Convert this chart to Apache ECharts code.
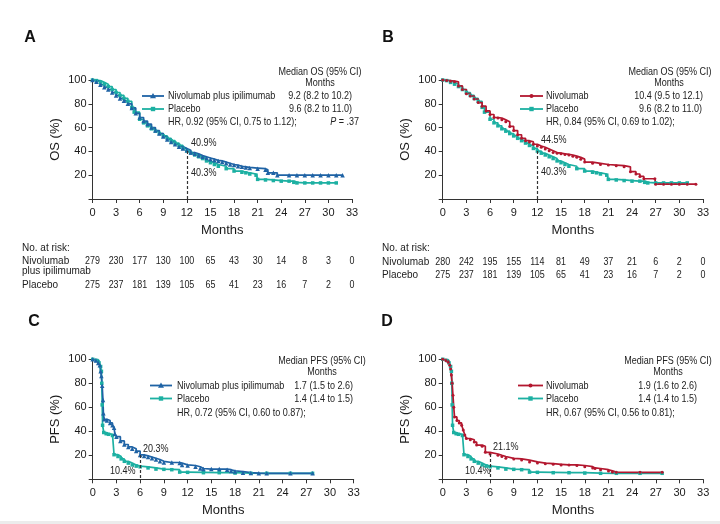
<!DOCTYPE html>
<html>
<head>
<meta charset="utf-8">
<script src="https://cdn.jsdelivr.net/npm/echarts@6/dist/echarts.min.js"></script>
<style>html,body{margin:0;padding:0;background:#fff}#chart{width:720px;height:524px}</style>
</head>
<body>
<div id="chart"></div>
<script>
// OS, placebo (same arm in A and B)
var osPlaceboT = [0,0.5,1,1.5,2,2.5,3,3.5,4,4.5,5,5.3,6,6.5,7,7.5,8,8.5,9,9.5,10,10.5,11,11.5,12,12.5,13,13.5,14,14.5,15,15.5,16,17,18,19,19.5,20,20.8,21,22,23,24,25,25.6,26,27,28,29,30,31];
var osPlaceboS = [100,99.5,98,96.5,94.5,92,89.5,87,84.5,82,77,73,67,64,61.5,59,57,55,53,51,49,47,45,42.5,40.3,38.5,37,35.5,34,32,30.5,29,27.5,25.5,23.5,22.5,22,21,20,16.5,16,15.5,15,15,14,13.5,13.5,13.5,13.5,13.5,13.5];
// OS, nivolumab plus ipilimumab
var osNivoIpiT = [0,0.5,1,1.5,2,2.5,3,3.5,4,4.5,5,5.5,6,6.5,7,7.5,8,8.5,9,9.5,10,10.5,11,11.5,12,12.5,13,13.5,14,14.5,15,15.5,16,16.5,17,17.5,18,18.5,19,19.5,20,21,22,22.3,23,23.5,25,26,27,28,29,30,31,31.8];
var osNivoIpiS = [100,98.5,96,94,92,89.5,87,84.5,82.5,80,76.5,72,68.5,65.5,63,60,57.5,55,52.5,50,48,46,44,42.5,40.9,39,38,36.5,35.5,34.5,33.5,32.5,32,31,30,29,28.5,27.5,27,26.5,26,25.5,24.5,22,22,20,20,20,20,20,20,20,20,20];
// OS, nivolumab
var osNivoT = [0,0.5,1,1.5,2,2.5,3,3.5,4,4.5,5,5.5,6,6.5,7,7.5,8,8.5,9,9.5,10,10.5,11,11.5,12,12.5,13,13.5,14,14.5,15,15.5,16,16.5,17,17.5,18,19,20,21,22,23,23.8,24.5,25,25.5,26.9,27,28,29,30,31,32.1];
var osNivoS = [100,99.5,99,98.5,95,92,88.5,86.5,84,81,78,74,71,68.5,68,66.5,65,61,57.5,54,51,49,48,46,44.5,43.5,42,40.5,39,38.5,38,37.5,37,36,35,33.5,31,30,29,28.5,28,27,23,21,19,17,17,12.5,12.5,12.5,12.5,12.5,12.5];

// PFS, placebo (same arm in C and D)
var pfsPlaceboT = [0,0.5,0.8,1,1.1,1.15,1.2,1.25,1.4,1.7,2,2.5,2.7,3.2,3.6,4,4.5,5,5.5,6,7,8,9,10,11,12,14,16,18,20,22,25,27.8];
var pfsPlaceboS = [100,99,97,94,90,80,62,45,39,38,37.5,36.5,20.5,19,17,15,13.5,12,11,10.4,9.5,8.5,8.3,8,6,5.8,5.5,5.5,5.2,5,5,5,5];
// PFS, nivolumab plus ipilimumab
var pfsNivoIpiT = [0,0.4,0.7,0.9,1,1.1,1.2,1.3,1.35,1.45,1.8,2.2,2.5,2.7,2.8,3,3.5,4,4.5,5,5.5,6,6.5,7,7.5,8,8.5,9,10,11,11.3,12,13,13.6,14,15,16,17,17.5,18,19,20,21,22,25,27.8];
var pfsNivoIpiS = [100,99,97,95,90,86,78,66,55,50,49,47,45,43,38,35.5,32,29,27,25.5,23.5,20.3,19.5,18.5,17.5,16.5,15,14,14,13.5,12,11.5,10.5,9,8.5,8.5,8.5,8,7,6.5,5.5,5.2,5,5,5,5];
// PFS, nivolumab
var pfsNivoT = [0,0.4,0.7,0.9,1,1.1,1.2,1.3,1.4,1.5,1.8,2.1,2.4,2.6,2.8,3,3.5,4,4.3,5,5.4,6,7,7.5,8,9,10,11,12,13,14,15,16,17,18,19,19.3,20,21,21.5,22,25,27.8];
var pfsNivoS = [100,99,97.5,95,92,87,80,70,60,52,49,47,45,41,37,34,33,31,28.5,27.5,22.5,21.1,20,19,17.5,17,16,14.5,13.5,13,12.5,12,12,11.5,10.5,9.5,9,8,7,6,5.8,5.8,5.8];

// number at risk, every 3 months
var riskMonths = [0,3,6,9,12,15,18,21,24,27,30,33];
var riskNivoIpi = [279,230,177,130,100,65,43,30,14,8,3,0];
var riskNivo = [280,242,195,155,114,81,49,37,21,6,2,0];
var riskPlacebo = [275,237,181,139,105,65,41,23,16,7,2,0];

// medians shown beside the legend
var medOsNivoIpi = '9.2 (8.2 to 10.2)', medOsNivo = '10.4 (9.5 to 12.1)', medOsPlacebo = '9.6 (8.2 to 11.0)';
var medPfsNivoIpi = '1.7 (1.5 to 2.6)', medPfsNivo = '1.9 (1.6 to 2.6)', medPfsPlacebo = '1.4 (1.4 to 1.5)';

var BLUE = '#1f63a5', TEAL = '#1cb0a2', RED = '#b3172f';
var SANS = 'Arial, "Liberation Sans", Helvetica, sans-serif';
var TXT = '#222';
var SQUEEZE = 0.82; // the source uses a condensed face

function pairs(t, s) { return t.map(function (x, i) { return [x, s[i]]; }); }

var grids = [
  { left: 92.5, top: 80, width: 259.5, height: 119 },
  { left: 442.7, top: 80, width: 260.3, height: 119 },
  { left: 92.7, top: 359.3, width: 261, height: 120 },
  { left: 442.7, top: 359.3, width: 260.5, height: 120 }
];

function xAx(i) {
  return {
    gridIndex: i, type: 'value', min: 0, max: 33, interval: 3,
    name: 'Months', nameLocation: 'middle', nameGap: 25,
    nameTextStyle: { fontSize: 13, color: '#1a1a1a', fontFamily: SANS },
    axisLine: { lineStyle: { color: '#333', width: 1 } },
    axisTick: { length: 4, lineStyle: { color: '#333' } },
    axisLabel: { fontSize: 11, color: '#1a1a1a', margin: 8, fontFamily: SANS },
    splitLine: { show: false }
  };
}
function yAx(i, name) {
  return {
    gridIndex: i, type: 'value', min: 0, max: 100, interval: 20,
    name: name, nameLocation: 'middle', nameGap: 31,
    nameTextStyle: { fontSize: 13, color: '#1a1a1a', fontFamily: SANS },
    axisLine: { show: true, lineStyle: { color: '#333', width: 1 } },
    axisTick: { show: true, length: 4, lineStyle: { color: '#333' } },
    axisLabel: { fontSize: 11, color: '#1a1a1a', margin: 6, fontFamily: SANS,
      formatter: function (v) { return v === 0 ? '' : v; } },
    splitLine: { show: false }
  };
}
function dash(x, y) {
  return {
    silent: true, symbol: 'none', label: { show: false }, animation: false,
    lineStyle: { type: [3, 2], color: '#333', width: 1.2 },
    data: [[{ coord: [x, y] }, { coord: [x, 0] }]]
  };
}
function km(name, idx, t, s, color, symbol, size, mark) {
  var o = {
    name: name, type: 'line', xAxisIndex: idx, yAxisIndex: idx,
    data: pairs(t, s), step: 'end', color: color,
    symbol: symbol, symbolSize: size, showSymbol: true,
    lineStyle: { width: 1.7, color: color }, itemStyle: { color: color },
    animation: false
  };
  if (mark) o.markLine = mark;
  return o;
}

var chart = echarts.init(document.getElementById('chart'), null, { renderer: 'canvas' });
chart.setOption({
  backgroundColor: '#ffffff',
  animation: false,
  grid: grids,
  xAxis: [xAx(0), xAx(1), xAx(2), xAx(3)],
  yAxis: [yAx(0, 'OS (%)'), yAx(1, 'OS (%)'), yAx(2, 'PFS (%)'), yAx(3, 'PFS (%)')],
  series: [
    km('Placebo', 0, osPlaceboT, osPlaceboS, TEAL, 'rect', 3.5, dash(12, 40.3)),
    km('Nivolumab plus ipilimumab', 0, osNivoIpiT, osNivoIpiS, BLUE, 'triangle', 4.5),
    km('Placebo', 1, osPlaceboT, osPlaceboS, TEAL, 'rect', 3.5, dash(12, 40.3)),
    km('Nivolumab', 1, osNivoT, osNivoS, RED, 'circle', 3),
    km('Placebo', 2, pfsPlaceboT, pfsPlaceboS, TEAL, 'rect', 3.5, dash(6, 20.3)),
    km('Nivolumab plus ipilimumab', 2, pfsNivoIpiT, pfsNivoIpiS, BLUE, 'triangle', 4.5),
    km('Placebo', 3, pfsPlaceboT, pfsPlaceboS, TEAL, 'rect', 3.5, dash(6, 21.1)),
    km('Nivolumab', 3, pfsNivoT, pfsNivoS, RED, 'circle', 3)
  ]
});

function txt(x, y, s, opt) {
  opt = opt || {};
  var size = opt.size || 11;
  return {
    type: 'text', x: x, y: y, silent: true,
    scaleX: opt.scale == null ? SQUEEZE : opt.scale,
    style: {
      text: s, fill: opt.fill || TXT, fontSize: size,
      fontFamily: SANS, fontWeight: opt.weight || 'normal',
      align: opt.align || 'left', verticalAlign: 'middle',
      rich: opt.rich
    }
  };
}
function mark(kind, cx, cy, color) {
  if (kind === 'triangle') {
    return { type: 'polygon', silent: true, shape: { points: [[cx, cy - 3], [cx - 3, cy + 2.2], [cx + 3, cy + 2.2]] }, style: { fill: color } };
  }
  if (kind === 'rect') {
    return { type: 'rect', silent: true, shape: { x: cx - 2.2, y: cy - 2.2, width: 4.4, height: 4.4 }, style: { fill: color } };
  }
  return { type: 'circle', silent: true, shape: { cx: cx, cy: cy, r: 2 }, style: { fill: color } };
}
function legendRow(g, x1, x2, y, color, kind, name, tx, med, mx) {
  g.push({ type: 'line', silent: true, shape: { x1: x1, y1: y, x2: x2, y2: y }, style: { stroke: color, lineWidth: 1.8 } });
  g.push(mark(kind, (x1 + x2) / 2, y, color));
  g.push(txt(tx, y, name));
  g.push(txt(mx, y, med, { align: 'right' }));
}

var g = [];
// panel letters
g.push(txt(30, 38, 'A', { size: 16, weight: 'bold', align: 'center', fill: '#111', scale: 1 }));
g.push(txt(388, 38, 'B', { size: 16, weight: 'bold', align: 'center', fill: '#111', scale: 1 }));
g.push(txt(34, 322, 'C', { size: 16, weight: 'bold', align: 'center', fill: '#111', scale: 1 }));
g.push(txt(387, 322, 'D', { size: 16, weight: 'bold', align: 'center', fill: '#111', scale: 1 }));
// median headers
g.push(txt(320, 72, 'Median OS (95% CI)', { align: 'center' }));
g.push(txt(320, 83, 'Months', { align: 'center' }));
g.push(txt(670, 72, 'Median OS (95% CI)', { align: 'center' }));
g.push(txt(669, 83, 'Months', { align: 'center' }));
g.push(txt(322, 361, 'Median PFS (95% CI)', { align: 'center' }));
g.push(txt(322, 372, 'Months', { align: 'center' }));
g.push(txt(668, 361, 'Median PFS (95% CI)', { align: 'center' }));
g.push(txt(668, 372, 'Months', { align: 'center' }));
// legends
legendRow(g, 142, 164, 96, BLUE, 'triangle', 'Nivolumab plus ipilimumab', 168, medOsNivoIpi, 352);
legendRow(g, 142, 164, 109, TEAL, 'rect', 'Placebo', 168, medOsPlacebo, 352);
legendRow(g, 520, 543, 96, RED, 'circle', 'Nivolumab', 546, medOsNivo, 703);
legendRow(g, 520, 543, 109, TEAL, 'rect', 'Placebo', 546, medOsPlacebo, 702);
legendRow(g, 150, 172, 385.5, BLUE, 'triangle', 'Nivolumab plus ipilimumab', 177, medPfsNivoIpi, 353);
legendRow(g, 150, 172, 398.5, TEAL, 'rect', 'Placebo', 177, medPfsPlacebo, 353);
legendRow(g, 518, 543, 385.5, RED, 'circle', 'Nivolumab', 546, medPfsNivo, 697);
legendRow(g, 518, 543, 398.5, TEAL, 'rect', 'Placebo', 546, medPfsPlacebo, 697);
// hazard ratios
g.push(txt(168, 122, 'HR, 0.92 (95% CI, 0.75 to 1.12);'));
g.push(txt(359, 122, '{i|P} = .37', { align: 'right',
  rich: { i: { fontStyle: 'italic', fontSize: 11, fontFamily: SANS, fill: TXT } } }));
g.push(txt(546, 122, 'HR, 0.84 (95% CI, 0.69 to 1.02);'));
g.push(txt(177, 413, 'HR, 0.72 (95% CI, 0.60 to 0.87);'));
g.push(txt(546, 413, 'HR, 0.67 (95% CI, 0.56 to 0.81);'));
// landmark labels
g.push(txt(191, 143, '40.9%'));
g.push(txt(191, 173, '40.3%'));
g.push(txt(541, 140, '44.5%'));
g.push(txt(541, 172, '40.3%'));
g.push(txt(143, 449, '20.3%'));
g.push(txt(110, 471, '10.4%'));
g.push(txt(493, 447, '21.1%'));
g.push(txt(465, 471, '10.4%'));

// number at risk tables
g.push(txt(22, 248, 'No. at risk:', { size: 10, scale: 1 }));
g.push(txt(22, 261.5, 'Nivolumab', { size: 10, scale: 1 }));
g.push(txt(22, 271.5, 'plus ipilimumab', { size: 10, scale: 1 }));
g.push(txt(22, 285, 'Placebo', { size: 10, scale: 1 }));
g.push(txt(382, 248, 'No. at risk:', { size: 10, scale: 1 }));
g.push(txt(382, 262.5, 'Nivolumab', { size: 10, scale: 1 }));
g.push(txt(382, 275.5, 'Placebo', { size: 10, scale: 1 }));
riskMonths.forEach(function (m, i) {
  var xa = chart.convertToPixel({ xAxisIndex: 0 }, m);
  var xb = chart.convertToPixel({ xAxisIndex: 1 }, m);
  g.push(txt(xa, 261.5, String(riskNivoIpi[i]), { size: 10.5, align: 'center', scale: 0.85 }));
  g.push(txt(xa, 285, String(riskPlacebo[i]), { size: 10.5, align: 'center', scale: 0.85 }));
  g.push(txt(xb, 262.5, String(riskNivo[i]), { size: 10.5, align: 'center', scale: 0.85 }));
  g.push(txt(xb, 275.5, String(riskPlacebo[i]), { size: 10.5, align: 'center', scale: 0.85 }));
});
// faint strip at the bottom edge
g.push({ type: 'rect', silent: true, shape: { x: 0, y: 521, width: 720, height: 3 }, style: { fill: '#ececec' } });

chart.setOption({ graphic: g });
</script>
</body>
</html>
